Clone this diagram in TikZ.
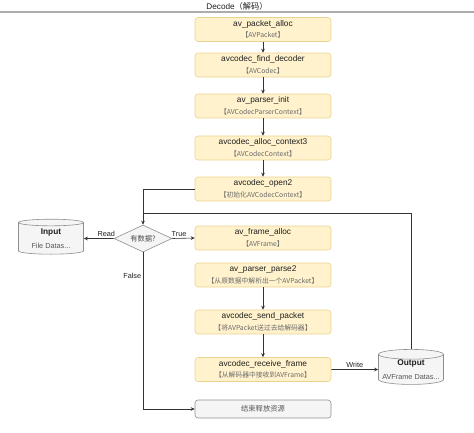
\documentclass[tikz,border=0pt]{standalone}
\usepackage{fontspec}
\setmainfont{Liberation Sans}
\newfontfamily\cjk{Noto Sans CJK SC}
\usetikzlibrary{arrows.meta,shapes.geometric}
\definecolor{Ink}{HTML}{1F1F1F}
\definecolor{Note}{HTML}{6B6B6B}
\definecolor{StepFill}{HTML}{FFF2CC}
\definecolor{StepLine}{HTML}{EAD38F}
\definecolor{DataFill}{HTML}{F5F5F5}
\definecolor{DataLine}{HTML}{8F8F8F}
\definecolor{Wire}{HTML}{333333}
\newcommand{\callbox}[2]{{\fontsize{8.3}{10}\selectfont #1}\\[-0.5pt]{\cjk\fontsize{6.8}{8}\selectfont\color{Note}#2}}

\begin{document}
\begin{tikzpicture}[x=1pt,y=-1pt,
  stepbox/.style={rectangle,rounded corners=3pt,fill=StepFill,draw=StepLine,line width=0.6pt,
    minimum width=136pt,minimum height=24pt,inner sep=0pt,align=center,text=Ink},
  endbox/.style={rectangle,rounded corners=3pt,fill=DataFill,draw=DataLine,line width=0.6pt,
    minimum width=136pt,minimum height=18pt,inner sep=0pt,font=\cjk\fontsize{7.3}{8}\selectfont,text=Note!80!black},
  store/.style={cylinder,shape border rotate=90,aspect=0.17,fill=DataFill,draw=DataLine,line width=0.6pt,
    minimum width=65pt,minimum height=35pt,inner sep=0pt,align=center,text=Ink},
  choice/.style={diamond,aspect=2.15,fill=DataFill,draw=DataLine,line width=0.6pt,
    minimum width=58pt,minimum height=27pt,inner sep=0pt,font=\cjk\fontsize{7.3}{8}\selectfont,text=Ink!80},
  flow/.style={->,>={Stealth[length=4pt,width=3.6pt]},draw=Wire,line width=0.6pt},
  wire/.style={draw=Wire,line width=0.6pt},
  tag/.style={font=\fontsize{7.3}{8}\selectfont,text=Ink,inner sep=1.5pt}]
\useasboundingbox (0,0) rectangle (474,432);
% lane header
\node[font=\fontsize{8.2}{9}\selectfont,text=Ink] (title) at (237,6) {Decode{\cjk（解码）}};
\draw[gray!65,line width=1.2pt] (0,12) -- (474,12);
% call chain
\node[stepbox] (pktalloc) at (263,29.5) {\callbox{av\_packet\_alloc}{【AVPacket】}};
\node[stepbox] (finddec) at (263,65) {\callbox{avcodec\_find\_decoder}{【AVCodec】}};
\node[stepbox] (parinit) at (263,106) {\callbox{av\_parser\_init}{【AVCodecParserContext】}};
\node[stepbox] (ctxalloc) at (263,148) {\callbox{avcodec\_alloc\_context3}{【AVCodecContext】}};
\node[stepbox] (open) at (263,189) {\callbox{avcodec\_open2}{【初始化AVCodecContext】}};
\node[stepbox] (frmalloc) at (263,238) {\callbox{av\_frame\_alloc}{【AVFrame】}};
\node[stepbox] (parse) at (263,275) {\callbox{av\_parser\_parse2}{【从原数据中解析出一个AVPacket】}};
\node[stepbox] (send) at (263,322) {\callbox{avcodec\_send\_packet}{【将AVPacket送过去给解码器】}};
\node[stepbox] (recv) at (263,369.5) {\callbox{avcodec\_receive\_frame}{【从解码器中接收到AVFrame】}};
\node[endbox] (done) at (263,409) {结束释放资源};
% data and decision
\node[choice] (hasdata) at (143,238.5) {有数据?};
\node[store] (input) at (51,238.5) {\textbf{\fontsize{8.3}{10}\selectfont Input}\\[1.5pt]{\fontsize{7.3}{8}\selectfont\color{Note!80!black}File Datas...}};
\node[store] (output) at (411,369.5) {\textbf{\fontsize{8.3}{10}\selectfont Output}\\[1.5pt]{\fontsize{7.3}{8}\selectfont\color{Note!80!black}AVFrame Datas...}};
\coordinate (loop) at (143,213);
% connectors
\draw[flow] (pktalloc) -- (finddec);
\draw[flow] (finddec) -- (parinit);
\draw[flow] (parinit) -- (ctxalloc);
\draw[flow] (ctxalloc) -- (open);
\draw[flow] (open.west) -| (hasdata.north);
\draw[wire] (output.north) |- (loop);
\draw[flow] (hasdata.west) -- node[tag,above,pos=0.25] {Read} (input.east);
\draw[flow] (hasdata.east) -- node[tag,above,pos=0.3] {True} (frmalloc.west);
\draw[flow] (hasdata.south) |- node[tag,left,pos=0.075] {False} (done.west);
\draw[flow] (parse) -- (send);
\draw[flow] (send) -- (recv);
\draw[flow] (recv.east) -- node[tag,above] {Write} (output.west);
\end{tikzpicture}
\end{document}
